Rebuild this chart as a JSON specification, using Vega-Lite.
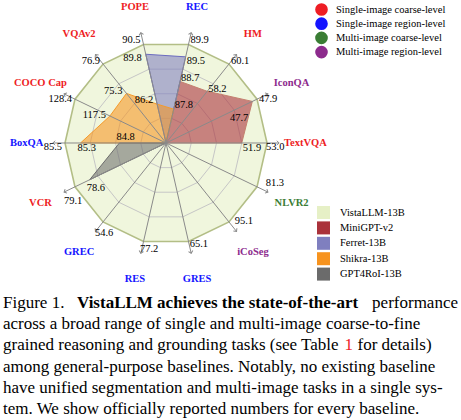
{
  "$schema": "https://vega.github.io/schema/vega-lite/v6.json",
  "width": 461,
  "height": 420,
  "autosize": "none",
  "padding": 0,
  "background": "white",
  "config": {"view": {"stroke": null}, "font": "Liberation Serif"},
  "datasets": {
    "scores": [
      {"task": "TextVQA", "level": "Single-image coarse-level", "axis_min": 48.6, "VistaLLM-13B": 53.0, "MiniGPT-v2": 51.9},
      {"task": "IconQA", "level": "Multi-image region-level", "axis_min": 44.0, "VistaLLM-13B": 47.9, "MiniGPT-v2": 47.7},
      {"task": "HM", "level": "Single-image coarse-level", "axis_min": 54.6, "VistaLLM-13B": 60.1, "MiniGPT-v2": 58.2},
      {"task": "REC", "level": "Single-image region-level", "axis_min": 86.7, "VistaLLM-13B": 89.9, "MiniGPT-v2": 88.7, "Ferret-13B": 89.5, "Shikra-13B": 87.8},
      {"task": "POPE", "level": "Single-image coarse-level", "axis_min": 83.4, "VistaLLM-13B": 90.5, "Ferret-13B": 89.8, "Shikra-13B": 86.2},
      {"task": "VQAv2", "level": "Single-image coarse-level", "axis_min": 72.6, "VistaLLM-13B": 76.9, "Shikra-13B": 75.3},
      {"task": "COCO Cap", "level": "Single-image coarse-level", "axis_min": 100.0, "VistaLLM-13B": 128.4, "Shikra-13B": 117.5},
      {"task": "BoxQA", "level": "Single-image region-level", "axis_min": 84.2, "VistaLLM-13B": 85.5, "Shikra-13B": 85.3, "GPT4RoI-13B": 84.8},
      {"task": "VCR", "level": "Single-image coarse-level", "axis_min": 76.0, "VistaLLM-13B": 79.1, "GPT4RoI-13B": 78.6},
      {"task": "GREC", "level": "Single-image region-level", "axis_min": 0, "VistaLLM-13B": 54.6},
      {"task": "RES", "level": "Single-image region-level", "axis_min": 0, "VistaLLM-13B": 77.2},
      {"task": "GRES", "level": "Single-image region-level", "axis_min": 0, "VistaLLM-13B": 65.1},
      {"task": "iCoSeg", "level": "Multi-image region-level", "axis_min": 0, "VistaLLM-13B": 95.1},
      {"task": "NLVR2", "level": "Multi-image coarse-level", "axis_min": 0, "VistaLLM-13B": 81.3}
    ],
    "caption": [
      {"line": 1, "part": "plain", "text": "Figure 1."},
      {"line": 1, "part": "emphasis", "text": "VistaLLM achieves the state-of-the-art"},
      {"line": 1, "part": "end", "text": "performance"},
      {"line": 2, "part": "plain", "text": "across a broad range of single and multi-image coarse-to-fine"},
      {"line": 3, "part": "plain", "text": "grained reasoning and grounding tasks (see Table"},
      {"line": 3, "part": "ref", "text": "1"},
      {"line": 3, "part": "after-ref", "text": "for details)"},
      {"line": 4, "part": "plain", "text": "among general-purpose baselines.  Notably, no existing baseline"},
      {"line": 5, "part": "plain", "text": "have unified segmentation and multi-image tasks in a single sys-"},
      {"line": 6, "part": "plain", "text": "tem. We show officially reported numbers for every baseline."}
    ]
  },
  "layer": [
    {
      "data": {"name": "scores"},
      "transform": [
        {"window": [{"op": "row_number", "as": "k"}]},
        {"calculate": "(datum.k - 1) * 2 * PI / 14", "as": "theta"},
        {"calculate": "cos(datum.theta)", "as": "c"},
        {"calculate": "sin(datum.theta)", "as": "s"},
        {"fold": ["VistaLLM-13B", "MiniGPT-v2", "Ferret-13B", "Shikra-13B", "GPT4RoI-13B"], "as": ["model", "score"]},
        {"joinaggregate": [{"op": "max", "field": "score", "as": "axis_max"}], "groupby": ["task"]},
        {"calculate": "isValid(datum.score) ? (datum.score - datum.axis_min) / (datum.axis_max - datum.axis_min) : 0", "as": "f"},
        {"calculate": "datum.f * datum.c", "as": "px"},
        {"calculate": "datum.f * datum.s", "as": "py"}
      ],
      "layer": [
        {
          "transform": [{"filter": "datum.model === 'VistaLLM-13B'"}],
          "mark": {"type": "line", "interpolate": "linear-closed", "strokeWidth": 1.6},
          "encoding": {
            "x": {"field": "px", "type": "quantitative", "scale": {"domain": [-1.6436, 2.9208], "nice": false, "zero": false}, "axis": null},
            "y": {"field": "py", "type": "quantitative", "scale": {"domain": [-2.7426, 1.4158], "nice": false, "zero": false}, "axis": null},
            "order": {"field": "k", "type": "quantitative"},
            "fill": {
              "field": "model", "type": "nominal",
              "scale": {"domain": ["VistaLLM-13B", "MiniGPT-v2", "Ferret-13B", "Shikra-13B", "GPT4RoI-13B"], "range": ["#e6f0c6", "#aa323b", "#7f7fbf", "#f7931e", "#6b6b6b"]},
              "legend": {"orient": "none", "legendX": 317, "legendY": 206, "title": null, "symbolType": "square", "symbolSize": 169, "symbolStrokeWidth": 0, "symbolOpacity": 1, "labelFont": "Liberation Serif", "labelFontSize": 10.5, "labelColor": "#000", "labelOffset": 10, "rowPadding": 2.4, "padding": 0}
            },
            "fillOpacity": {"value": 0.6},
            "stroke": {"value": "#b3be86"}
          }
        },
        {
          "transform": [
            {"filter": "datum.model === 'VistaLLM-13B'"},
            {"calculate": "[0.25, 0.5, 0.75]", "as": "ring"},
            {"flatten": ["ring"]},
            {"calculate": "datum.ring * datum.c", "as": "rx"},
            {"calculate": "datum.ring * datum.s", "as": "ry"}
          ],
          "mark": {"type": "line", "interpolate": "linear-closed", "stroke": "#c6c6c6", "strokeWidth": 1},
          "encoding": {
            "x": {"field": "rx", "type": "quantitative", "scale": {"domain": [-1.6436, 2.9208], "nice": false, "zero": false}, "axis": null},
            "y": {"field": "ry", "type": "quantitative", "scale": {"domain": [-2.7426, 1.4158], "nice": false, "zero": false}, "axis": null},
            "detail": {"field": "ring", "type": "nominal"},
            "order": {"field": "k", "type": "quantitative"}
          }
        },
        {
          "transform": [{"filter": "datum.model !== 'VistaLLM-13B'"}],
          "mark": {"type": "line", "interpolate": "linear-closed", "strokeWidth": 1},
          "encoding": {
            "x": {"field": "px", "type": "quantitative", "scale": {"domain": [-1.6436, 2.9208], "nice": false, "zero": false}, "axis": null},
            "y": {"field": "py", "type": "quantitative", "scale": {"domain": [-2.7426, 1.4158], "nice": false, "zero": false}, "axis": null},
            "order": {"field": "k", "type": "quantitative"},
            "fill": {"field": "model", "type": "nominal", "scale": {"domain": ["VistaLLM-13B", "MiniGPT-v2", "Ferret-13B", "Shikra-13B", "GPT4RoI-13B"], "range": ["#e6f0c6", "#aa323b", "#7f7fbf", "#f7931e", "#6b6b6b"]}},
            "stroke": {"field": "model", "type": "nominal", "scale": {"domain": ["VistaLLM-13B", "MiniGPT-v2", "Ferret-13B", "Shikra-13B", "GPT4RoI-13B"], "range": ["#b3be86", "#c4806f", "#6b6bc0", "#f59a2a", "#6b6b6b"]}, "legend": null},
            "fillOpacity": {"field": "model", "type": "nominal", "scale": {"domain": ["VistaLLM-13B", "MiniGPT-v2", "Ferret-13B", "Shikra-13B", "GPT4RoI-13B"], "range": [0.6, 0.56, 0.6, 0.6, 0.95]}, "legend": null}
          }
        },
        {
          "transform": [
            {"filter": "datum.model === 'VistaLLM-13B'"},
            {"calculate": "[0, 1.12]", "as": "t"},
            {"flatten": ["t"]},
            {"calculate": "datum.t * datum.c", "as": "sx"},
            {"calculate": "datum.t * datum.s", "as": "sy"}
          ],
          "mark": {"type": "line", "stroke": "#8a8a8a", "strokeWidth": 1},
          "encoding": {
            "x": {"field": "sx", "type": "quantitative", "scale": {"domain": [-1.6436, 2.9208], "nice": false, "zero": false}, "axis": null},
            "y": {"field": "sy", "type": "quantitative", "scale": {"domain": [-2.7426, 1.4158], "nice": false, "zero": false}, "axis": null},
            "detail": {"field": "task", "type": "nominal"},
            "order": {"field": "t", "type": "quantitative"}
          }
        },
        {
          "transform": [
            {"filter": "datum.model === 'VistaLLM-13B'"},
            {"calculate": "1.12 * datum.c", "as": "ex"},
            {"calculate": "1.12 * datum.s", "as": "ey"}
          ],
          "mark": {
            "type": "point", "filled": false, "stroke": "#8a8a8a", "strokeWidth": 1, "opacity": 1, "size": 20,
            "shape": "M -1 -1 L 0 0 L 1 -1",
            "angle": {"expr": "270 - datum.theta * 180 / PI"}
          },
          "encoding": {
            "x": {"field": "ex", "type": "quantitative", "scale": {"domain": [-1.6436, 2.9208], "nice": false, "zero": false}, "axis": null},
            "y": {"field": "ey", "type": "quantitative", "scale": {"domain": [-2.7426, 1.4158], "nice": false, "zero": false}, "axis": null}
          }
        },
        {
          "transform": [
            {"filter": "datum.model === 'VistaLLM-13B'"},
            {"calculate": "1.38 * datum.c", "as": "lx"},
            {"calculate": "1.38 * datum.s", "as": "ly"}
          ],
          "mark": {"type": "text", "font": "Liberation Serif", "fontWeight": "bold", "fontSize": 10.5, "align": "center", "baseline": "middle"},
          "encoding": {
            "x": {"field": "lx", "type": "quantitative", "scale": {"domain": [-1.6436, 2.9208], "nice": false, "zero": false}, "axis": null},
            "y": {"field": "ly", "type": "quantitative", "scale": {"domain": [-2.7426, 1.4158], "nice": false, "zero": false}, "axis": null},
            "text": {"field": "task", "type": "nominal"},
            "color": {
              "field": "level", "type": "nominal",
              "scale": {"domain": ["Single-image coarse-level", "Single-image region-level", "Multi-image coarse-level", "Multi-image region-level"], "range": ["#ee1d24", "#1414ff", "#3a7d34", "#8d2b8d"]},
              "legend": {"orient": "none", "legendX": 315, "legendY": 3, "title": null, "symbolType": "circle", "symbolSize": 160, "symbolStrokeWidth": 0, "symbolOpacity": 1, "labelFont": "Liberation Serif", "labelFontSize": 10.5, "labelColor": "#000", "labelOffset": 8, "rowPadding": 1.2, "padding": 0, "labelLimit": 200}
            }
          }
        },
        {
          "transform": [{"filter": "datum.model === 'VistaLLM-13B'"}],
          "mark": {
            "type": "text", "font": "Liberation Serif", "fontSize": 10.5, "baseline": "middle", "color": "#000",
            "align": {"expr": "datum.s < -0.1 ? 'center' : (datum.c > 0 ? 'left' : 'right')"},
            "dx": {"expr": "datum.s < -0.1 ? 8 + 11 * datum.c : (datum.c > 0 ? (abs(datum.s) < 0.1 ? -1 : 2) : -3)"},
            "dy": {"expr": "datum.s < -0.1 ? 5 - 10 * datum.c : 4 - 9 * datum.s"}
          },
          "encoding": {
            "x": {"field": "px", "type": "quantitative", "scale": {"domain": [-1.6436, 2.9208], "nice": false, "zero": false}, "axis": null},
            "y": {"field": "py", "type": "quantitative", "scale": {"domain": [-2.7426, 1.4158], "nice": false, "zero": false}, "axis": null},
            "text": {"field": "score", "type": "quantitative", "format": ".1f"}
          }
        },
        {
          "transform": [{"filter": "datum.model !== 'VistaLLM-13B' && isValid(datum.score)"}],
          "mark": {
            "type": "text", "font": "Liberation Serif", "fontSize": 10.5, "baseline": "middle", "color": "#000",
            "align": {"expr": "(datum.c > 0 && datum.task !== 'IconQA') || datum.s < 0.1 ? 'left' : 'right'"},
            "dx": {"expr": "datum.s < 0.1 && datum.c < 0 ? -3 : ((datum.c > 0 && datum.task !== 'IconQA') ? 1 : -4)"},
            "dy": {"expr": "datum.model === 'Ferret-13B' ? 4 : (datum.task === 'IconQA' ? 17 : (abs(datum.s) < 0.1 ? (datum.model === 'GPT4RoI-13B' ? -6 : 5) : (datum.s < 0 ? 8 : 2 - 6 * datum.s)))"}
          },
          "encoding": {
            "x": {"field": "px", "type": "quantitative", "scale": {"domain": [-1.6436, 2.9208], "nice": false, "zero": false}, "axis": null},
            "y": {"field": "py", "type": "quantitative", "scale": {"domain": [-2.7426, 1.4158], "nice": false, "zero": false}, "axis": null},
            "text": {"field": "score", "type": "quantitative", "format": ".1f"}
          }
        }
      ]
    },
    {
      "data": {"name": "caption"},
      "transform": [
        {"calculate": "datum.part === 'end' ? 1 : 0", "as": "edge"}
      ],
      "encoding": {
        "x": {"field": "edge", "type": "quantitative", "scale": {"domain": [0, 1], "nice": false, "zero": false}, "axis": null},
        "y": {"field": "line", "type": "quantitative", "scale": {"domain": [-13.446, 6.272], "reverse": true, "nice": false, "zero": false}, "axis": null},
        "text": {"field": "text", "type": "nominal"}
      },
      "layer": [
        {
          "transform": [{"filter": "datum.part === 'plain'"}],
          "mark": {"type": "text", "font": "Liberation Serif", "fontSize": 17, "align": "left", "baseline": "alphabetic", "dx": 3, "color": "#000"}
        },
        {
          "transform": [{"filter": "datum.part === 'emphasis'"}],
          "mark": {"type": "text", "font": "Liberation Serif", "fontSize": 17, "fontWeight": "bold", "align": "left", "baseline": "alphabetic", "dx": 77, "color": "#000"}
        },
        {
          "transform": [{"filter": "datum.part === 'end'"}],
          "mark": {"type": "text", "font": "Liberation Serif", "fontSize": 17, "align": "right", "baseline": "alphabetic", "dx": -3, "color": "#000"}
        },
        {
          "transform": [{"filter": "datum.part === 'ref'"}],
          "mark": {"type": "text", "font": "Liberation Serif", "fontSize": 17, "align": "left", "baseline": "alphabetic", "dx": 344.5, "color": "#ee1d24"}
        },
        {
          "transform": [{"filter": "datum.part === 'after-ref'"}],
          "mark": {"type": "text", "font": "Liberation Serif", "fontSize": 17, "align": "left", "baseline": "alphabetic", "dx": 357.5, "color": "#000"}
        }
      ]
    }
  ],
  "resolve": {"scale": {"x": "independent", "y": "independent"}}
}
